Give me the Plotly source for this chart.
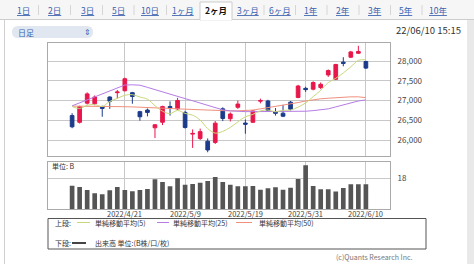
import plotly.graph_objects as go

W, H = 474, 264

dates = ["2022/4/12", "2022/4/13", "2022/4/14", "2022/4/15", "2022/4/18", "2022/4/19", "2022/4/20",
         "2022/4/21", "2022/4/22", "2022/4/25", "2022/4/26", "2022/4/27", "2022/4/28", "2022/5/2",
         "2022/5/6", "2022/5/9", "2022/5/10", "2022/5/11", "2022/5/12", "2022/5/13", "2022/5/16",
         "2022/5/17", "2022/5/18", "2022/5/19", "2022/5/20", "2022/5/23", "2022/5/24", "2022/5/25",
         "2022/5/26", "2022/5/27", "2022/5/30", "2022/5/31", "2022/6/1", "2022/6/2", "2022/6/3",
         "2022/6/6", "2022/6/7", "2022/6/8", "2022/6/9", "2022/6/10"]
opens = [26620, 26450, 26935, 26920, 26850, 27090, 27200, 27250, 27200, 26720, 26760, 26310, 26450, 26850,
         26790, 26700, 26150, 26040, 25970, 25940, 26790, 26540, 26830, 26430, 26450, 26985, 26990, 26720,
         26680, 26960, 27080, 27310, 27290, 27330, 27650, 27540, 27975, 28100, 28200, 27990]
highs = [26680, 26870, 27210, 27130, 26870, 27110, 27270, 27580, 27220, 26740, 26800, 26400, 26870, 26980,
         27070, 26740, 26270, 26290, 26040, 26480, 26830, 26700, 27000, 26520, 26760, 27050, 27020, 26810,
         26890, 26990, 27400, 27350, 27490, 27460, 27790, 27930, 28100, 28260, 28390, 28010]
lows = [26300, 26420, 26900, 26880, 26590, 26790, 27060, 27230, 26920, 26490, 26600, 26050, 26380, 26620,
        26760, 26290, 25800, 26000, 25690, 25900, 26480, 26470, 26790, 26160, 26430, 26930, 26720, 26620,
        26580, 26750, 27060, 27220, 27260, 27290, 27600, 27520, 27870, 28080, 28180, 27800]
closes = [26335, 26845, 27170, 27090, 26800, 26985, 27217, 27553, 27105, 26590, 26700, 26386, 26847, 26818,
          27003, 26319, 26167, 26213, 25748, 26427, 26547, 26659, 26911, 26402, 26739, 27001, 26748, 26677,
          26604, 26781, 27369, 27279, 27457, 27413, 27761, 27916, 27943, 28234, 28246, 27824]
volume = [13.9, 13.1, 11.4, 9.4, 8.8, 11.2, 13.1, 11.4, 10.6, 11.4, 11.9, 17.6, 16.1, 13.5, 18.2, 14.5,
          14.9, 15.6, 16.6, 19.0, 16.1, 14.5, 13.5, 13.5, 13.7, 11.5, 12.4, 12.9, 11.5, 12.7, 17.8, 25.9,
          13.7, 11.8, 11.8, 10.4, 12.5, 14.7, 14.7, 14.7]
ma5 = [26850, 26800, 26880, 26900, 26850, 26980, 27055, 27135, 27150, 27090, 27035, 26870, 26730, 26670,
       26750, 26675, 26630, 26505, 26290, 26175, 26220, 26320, 26460, 26590, 26650, 26740, 26760, 26715,
       26755, 26760, 26835, 26940, 27100, 27260, 27455, 27565, 27700, 27855, 28020, 28035]
ma25 = [26867, 26940, 27015, 27090, 27165, 27240, 27320, 27395, 27400, 27390, 27335, 27275, 27220, 27165,
        27105, 27050, 26995, 26935, 26880, 26820, 26765, 26740, 26725, 26720, 26720, 26720, 26720, 26720,
        26720, 26722, 26725, 26730, 26745, 26765, 26790, 26840, 26890, 26950, 26990, 27017]
ma50 = [26860, 26860, 26855, 26855, 26850, 26850, 26845, 26845, 26840, 26835, 26830, 26820, 26810, 26800,
        26790, 26780, 26770, 26760, 26750, 26745, 26740, 26738, 26740, 26745, 26760, 26790, 26820, 26850,
        26880, 26910, 26950, 26990, 27020, 27045, 27060, 27075, 27085, 27095, 27095, 27075]

price_ticks = [26000, 26500, 27000, 27500, 28000]
vol_ticks = [18]
date_ticks = ["2022/4/21", "2022/5/9", "2022/5/19", "2022/5/31", "2022/6/10"]
tabs = ["1日", "2日", "3日", "5日", "10日", "1ヶ月", "2ヶ月", "3ヶ月", "6ヶ月", "1年", "2年", "3年", "5年", "10年"]
tab_x = [23, 54, 87, 118, 150, 183, 216, 248, 280, 311, 343, 375, 406, 438]
active_tab = "2ヶ月"
legend_ma = ["単純移動平均(5)", "単純移動平均(25)", "単純移動平均(50)"]

RED = "#e8174b"
BLUE = "#1c3b8a"
C5 = "#c9d77c"
C25 = "#b57ce6"
C50 = "#f0907c"
GRID = "#c8c8c8"
FONT = "Noto Sans CJK JP"


def px(x):
    return x / W


def py(y):
    return 1 - y / H


fig = go.Figure()

fig.add_trace(go.Candlestick(
    x=dates, open=opens, high=highs, low=lows, close=closes,
    increasing=dict(line=dict(color=RED, width=1), fillcolor=RED),
    decreasing=dict(line=dict(color=BLUE, width=1), fillcolor=BLUE),
    whiskerwidth=0, xaxis="x", yaxis="y", showlegend=False, hoverinfo="skip"))
fig.add_trace(go.Scatter(x=dates, y=ma50, mode="lines", line=dict(color=C50, width=1),
                         xaxis="x", yaxis="y", showlegend=False, hoverinfo="skip"))
fig.add_trace(go.Scatter(x=dates, y=ma25, mode="lines", line=dict(color=C25, width=1),
                         xaxis="x", yaxis="y", showlegend=False, hoverinfo="skip"))
fig.add_trace(go.Scatter(x=dates, y=ma5, mode="lines", line=dict(color=C5, width=1, shape="spline"),
                         xaxis="x", yaxis="y", showlegend=False, hoverinfo="skip"))
fig.add_trace(go.Bar(x=dates, y=volume, marker=dict(color="#555555", line=dict(width=0)), width=0.62,
                     xaxis="x2", yaxis="y2", showlegend=False, hoverinfo="skip"))

xr = [-3.2, 42.2]
xcommon = dict(type="category", categoryorder="array", categoryarray=dates, range=xr,
               tickvals=date_ticks, showgrid=True, gridcolor=GRID, gridwidth=1,
               showline=True, linecolor="#aaaaaa", linewidth=1, mirror=True, ticks="",
               zeroline=False, fixedrange=True, showticklabels=False)
fig.update_layout(
    width=W, height=H, margin=dict(l=0, r=0, t=0, b=0),
    paper_bgcolor="white", plot_bgcolor="white",
    font=dict(family=FONT, size=8, color="#333333"),
    separators=".,",
    xaxis=dict(domain=[px(48), px(390)], anchor="y", rangeslider=dict(visible=False), **xcommon),
    xaxis2=dict(domain=[px(48), px(390)], anchor="y2", **xcommon),
    yaxis=dict(domain=[py(156), py(43)], range=[25595, 28460], side="right", tickvals=price_ticks,
               tickformat=",d", showgrid=True, gridcolor=GRID, showline=True, linecolor="#aaaaaa",
               mirror=True, ticks="", ticklabelstandoff=5, zeroline=False, fixedrange=True,
               tickfont=dict(size=8, color="#444444")),
    yaxis2=dict(domain=[py(209.3), py(162)], range=[0, 27.8], side="right", tickvals=vol_ticks,
                showgrid=True, gridcolor=GRID, showline=True, linecolor="#aaaaaa", mirror=True,
                ticks="", ticklabelstandoff=5, zeroline=False, fixedrange=True,
                tickfont=dict(size=8, color="#444444")),
    bargap=0.3,
)

shapes = []
ann = []

# date labels below the volume panel, positioned on the shared category scale
for d in date_ticks:
    ann.append(dict(text=d, x=d, xref="x2", y=py(213.5), yref="paper", showarrow=False,
                    font=dict(size=7.5, color="#444444", family=FONT), xanchor="center",
                    yanchor="middle"))

# tab strip
shapes.append(dict(type="rect", xref="paper", yref="paper", x0=0, x1=1, y0=py(19), y1=1,
                   fillcolor="#f6f6f6", line=dict(width=0), layer="below"))
shapes.append(dict(type="line", xref="paper", yref="paper", x0=0, x1=1, y0=py(19.5), y1=py(19.5),
                   line=dict(color="#cccccc", width=1)))
for i, (t, x) in enumerate(zip(tabs, tab_x)):
    if t == active_tab:
        shapes.append(dict(type="rect", xref="paper", yref="paper", x0=px(200), x1=px(232),
                           y0=py(20), y1=py(2), fillcolor="white", line=dict(color="#cccccc", width=1)))
        shapes.append(dict(type="line", xref="paper", yref="paper", x0=px(200.5), x1=px(231.5),
                           y0=py(19.5), y1=py(19.5), line=dict(color="white", width=2)))
        ann.append(dict(text="<b>" + t + "</b>", x=px(x), y=py(10), xref="paper", yref="paper",
                        showarrow=False, font=dict(size=8.5, color="#111111", family=FONT),
                        xanchor="center", yanchor="middle"))
    else:
        ann.append(dict(text="<u>" + t + "</u>", x=px(x), y=py(10), xref="paper", yref="paper",
                        showarrow=False, font=dict(size=8.5, color="#3a62b0", family=FONT),
                        xanchor="center", yanchor="middle"))
    if i < len(tabs) - 1:
        sx = (tab_x[i] + tab_x[i + 1]) / 2
        if tabs[i + 1] != active_tab and t != active_tab:
            shapes.append(dict(type="line", xref="paper", yref="paper", x0=px(sx), x1=px(sx),
                               y0=py(5), y1=py(15), line=dict(color="#d6d6d6", width=1)))

# content frame
shapes.append(dict(type="line", xref="paper", yref="paper", x0=px(4.5), x1=px(4.5), y0=0, y1=py(19.5),
                   line=dict(color="#d0d0d0", width=1)))
shapes.append(dict(type="rect", xref="paper", yref="paper", x0=px(467), x1=1, y0=0, y1=py(20),
                   fillcolor="#e9e9e9", line=dict(width=0)))

# selector pill
r = 6
pill = (f"M {px(12+r)},{py(26)} L {px(93-r)},{py(26)} Q {px(93)},{py(26)} {px(93)},{py(32)} "
        f"Q {px(93)},{py(38)} {px(93-r)},{py(38)} L {px(12+r)},{py(38)} Q {px(12)},{py(38)} {px(12)},{py(32)} "
        f"Q {px(12)},{py(26)} {px(12+r)},{py(26)} Z")
shapes.append(dict(type="path", xref="paper", yref="paper", path=pill, fillcolor="#e1e7f0",
                   line=dict(width=0)))
ann.append(dict(text="日足", x=px(16), y=py(32), xref="paper", yref="paper", showarrow=False,
                font=dict(size=8, color="#3a62b0", family=FONT), xanchor="left", yanchor="middle"))
ann.append(dict(text="⇕", x=px(87), y=py(32), xref="paper", yref="paper", showarrow=False,
                font=dict(size=8, color="#3a62b0", family="DejaVu Sans"), xanchor="center", yanchor="middle"))
ann.append(dict(text="22/06/10 15:15", x=px(463), y=py(30), xref="paper", yref="paper", showarrow=False,
                font=dict(size=9.5, color="#333333", family=FONT), xanchor="right", yanchor="middle"))

# volume unit label
ann.append(dict(text="単位: B", x=px(50), y=py(166), xref="paper", yref="paper", showarrow=False,
                font=dict(size=7, color="#333333", family=FONT), xanchor="left", yanchor="middle"))

# legend box
shapes.append(dict(type="rect", xref="paper", yref="paper", x0=px(48), x1=px(426), y0=py(249), y1=py(218.5),
                   fillcolor="white", line=dict(color="#555555", width=1)))
ann.append(dict(text="上段:", x=px(53), y=py(222.5), xref="paper", yref="paper", showarrow=False,
                font=dict(size=7, color="#333333", family=FONT), xanchor="left", yanchor="middle"))
for (x0, x1, tx), col, lab in zip([(77, 90, 93), (157, 169, 171), (236, 252, 257)], [C5, C25, C50], legend_ma):
    shapes.append(dict(type="line", xref="paper", yref="paper", x0=px(x0), x1=px(x1), y0=py(222.5),
                       y1=py(222.5), line=dict(color=col, width=1)))
    ann.append(dict(text=lab, x=px(tx), y=py(222.5), xref="paper", yref="paper", showarrow=False,
                    font=dict(size=7, color="#333333", family=FONT), xanchor="left", yanchor="middle"))
ann.append(dict(text="下段:", x=px(53), y=py(243), xref="paper", yref="paper", showarrow=False,
                font=dict(size=7, color="#333333", family=FONT), xanchor="left", yanchor="middle"))
shapes.append(dict(type="line", xref="paper", yref="paper", x0=px(72), x1=px(86), y0=py(243), y1=py(243),
                   line=dict(color="#444444", width=2)))
ann.append(dict(text="出来高 単位:(B株/口/枚)", x=px(93), y=py(243), xref="paper", yref="paper",
                showarrow=False, font=dict(size=7, color="#333333", family=FONT), xanchor="left",
                yanchor="middle"))
ann.append(dict(text="(c)Quants Research Inc.", x=px(415), y=py(256.5), xref="paper", yref="paper",
                showarrow=False, font=dict(size=7, color="#777777", family=FONT), xanchor="right",
                yanchor="middle"))

fig.update_layout(shapes=shapes, annotations=ann)
fig.write_html("out.html", config={"displayModeBar": False, "staticPlot": True})
